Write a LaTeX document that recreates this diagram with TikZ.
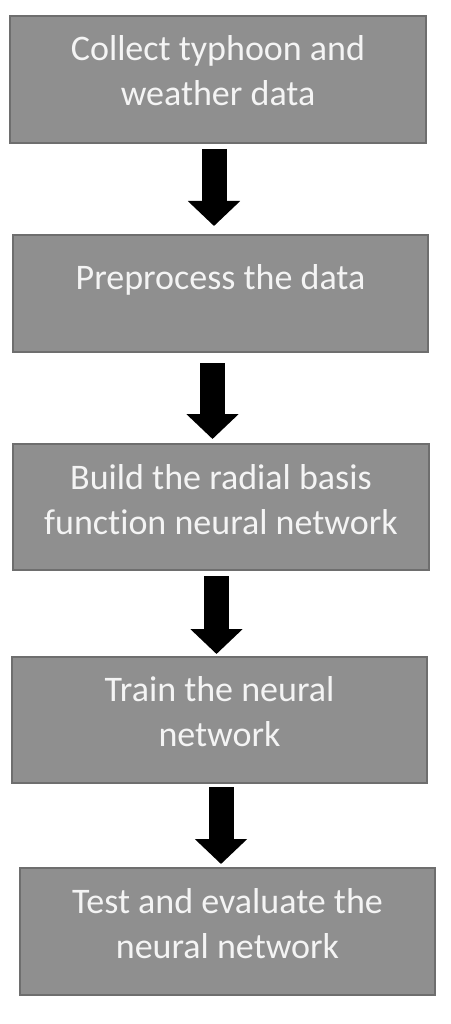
\documentclass[tikz,border=0pt]{standalone}
\usepackage{fontspec}
\setmainfont{Carlito}[Ligatures=CommonOff]
\usetikzlibrary{arrows.meta}
\definecolor{boxfill}{HTML}{8F8F8F}
\definecolor{boxline}{HTML}{6E6E6E}
\definecolor{txtcol}{HTML}{F4F4F4}
\tikzset{
  flowbox/.style={draw=boxline, line width=2pt, fill=boxfill, rectangle, inner sep=0pt, minimum width=415pt},
  flowtxt/.style={text=txtcol, align=center, inner sep=0pt, font=\fontsize{36}{45}\selectfont},
  blockarrow/.style={line width=25pt, black, -{Triangle[width=51pt,length=25pt]}}
}
\begin{document}
\begin{tikzpicture}[x=1pt,y=1pt]
\useasboundingbox[fill=white] (0,0) rectangle (450,-1024);
\node[flowbox, minimum width=416pt, minimum height=127pt] (b1) at (218,-79.5) {};
\node[flowbox, minimum height=117pt] (b2) at (220.5,-293.5) {};
\node[flowbox, minimum width=416pt, minimum height=126pt] (b3) at (221,-507) {};
\node[flowbox, minimum height=126pt] (b4) at (219.5,-720) {};
\node[flowbox, minimum height=127pt] (b5) at (227.5,-931.5) {};

\node[flowtxt, anchor=base] (t1) at ([yshift=-91pt]b1.north) {Collect typhoon and\\weather data};
\node[flowtxt, anchor=base] (t2) at ([yshift=-55pt]b2.north) {Preprocess the data};
\node[flowtxt, anchor=base] (t3) at ([yshift=-91pt]b3.north) {Build the radial basis\\function neural network};
\node[flowtxt, anchor=base] (t4) at ([yshift=-90pt]b4.north) {Train the neural\\network};
\node[flowtxt, anchor=base] (t5) at ([yshift=-91pt]b5.north) {Test and evaluate the\\neural network};

\draw[blockarrow] ([xshift=-4pt,yshift=-5pt]b1.south) -- ([xshift=-6.5pt,yshift=8pt]b2.north);
\draw[blockarrow] ([xshift=-8pt,yshift=-10pt]b2.south) -- ([xshift=-8.5pt,yshift=4pt]b3.north);
\draw[blockarrow] ([xshift=-4.5pt,yshift=-5pt]b3.south) -- ([xshift=-3pt,yshift=2pt]b4.north);
\draw[blockarrow] ([xshift=1.5pt,yshift=-3pt]b4.south) -- ([xshift=-6.5pt,yshift=3pt]b5.north);
\end{tikzpicture}
\end{document}
